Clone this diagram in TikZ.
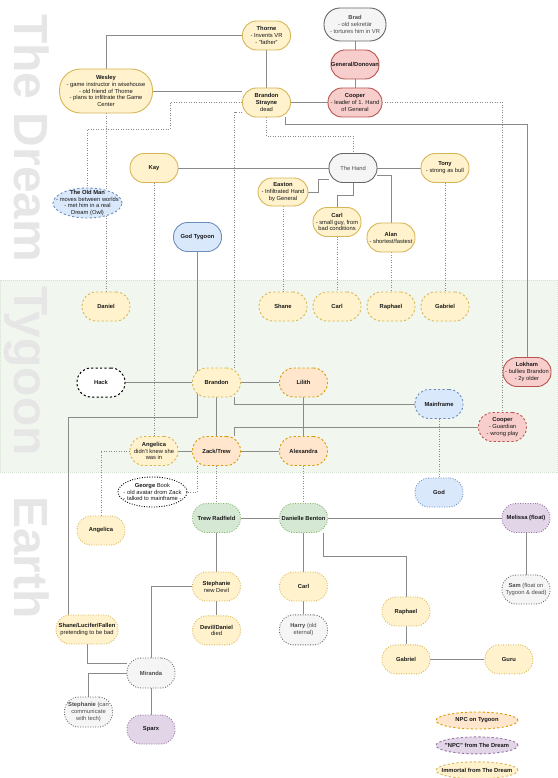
\documentclass[tikz,border=0pt]{standalone}
\usepackage{fontspec}
\setmainfont{Liberation Sans}
\usetikzlibrary{shapes.geometric,positioning}

\definecolor{yelF}{HTML}{FFF2CC}\definecolor{yelD}{HTML}{D6B656}
\definecolor{orgF}{HTML}{FFE6CC}\definecolor{orgD}{HTML}{D79B00}
\definecolor{redF}{HTML}{F8CECC}\definecolor{redD}{HTML}{B85450}
\definecolor{bluF}{HTML}{DAE8FC}\definecolor{bluD}{HTML}{6C8EBF}
\definecolor{grnF}{HTML}{D5E8D4}\definecolor{grnD}{HTML}{82B366}
\definecolor{purF}{HTML}{E1D5E7}\definecolor{purD}{HTML}{9673A6}
\definecolor{gryF}{HTML}{F5F5F5}\definecolor{gryD}{HTML}{666666}
\definecolor{bandF}{HTML}{F1F7EF}\definecolor{bandD}{HTML}{D5E3D2}
\definecolor{lineC}{HTML}{8A8A8A}
\definecolor{bigC}{HTML}{E6E6E6}

\newcommand{\nodefs}{\fontsize{5.8}{6.9}\selectfont}
\newcommand{\bandfs}{\fontsize{48}{48}\selectfont\bfseries}

\pgfdeclarelayer{back}
\pgfdeclarelayer{edges}
\pgfsetlayers{back,edges,main}

\begin{document}
\begin{tikzpicture}[
  x=1pt, y=-1pt,
  every node/.style={font=\nodefs, align=center, inner sep=0pt, text=black!90},
  pers/.style={rounded corners=14pt, minimum width=48pt, minimum height=29pt, line width=0.9pt},
  ovl/.style={ellipse, line width=0.9pt, minimum width=69pt, minimum height=30pt, label={center:#1}},
  cYel/.style={fill=yelF, draw=yelD},
  cOrg/.style={fill=orgF, draw=orgD},
  cRed/.style={fill=redF, draw=redD},
  cBlu/.style={fill=bluF, draw=bluD},
  cGrn/.style={fill=grnF, draw=grnD},
  cPur/.style={fill=purF, draw=purD},
  cGry/.style={fill=gryF, draw=gryD, text=black!70},
  tyg/.style={dash pattern=on 2.2pt off 2.2pt},
  ear/.style={dash pattern=on 0.9pt off 1.6pt},
  solln/.style={draw=lineC, line width=0.9pt},
  dotln/.style={draw=lineC, line width=0.9pt, dash pattern=on 1pt off 1.5pt},
  bandtxt/.style={font=\bandfs, text=bigC, rotate=-90, anchor=base west}
]
\useasboundingbox (0,0) rectangle (557,778);

% The Dream
\node[pers, cYel] (thorne) at (266.5,35.5) {\textbf{Thorne}\\- Invents VR\\- "father"};
\node[pers, cGry, minimum width=62pt, minimum height=33pt, rounded corners=16pt] (brad) at (355,24.5) {\textbf{Brad}\\- old sekretär\\- tortures him in VR};
\node[pers, cRed] (general) at (355,64.5) {\textbf{General/Donovan}};
\node[pers, cRed, minimum width=54pt] (cooperA) at (355,102.5) {\textbf{Cooper}\\- leader of 1. Hand\\of General};
\node[pers, cYel] (strayne) at (266.5,102.5) {\textbf{Brandon}\\\textbf{Strayne}\\dead};
\node[pers, cYel, minimum width=93pt, minimum height=44pt, rounded corners=21pt] (wesley) at (106,91) {\textbf{Wesley}\\- game instructor in wisehouse\\- old friend of Thorne\\- plans to infiltrate the Game\\Center};
\node[pers, cYel] (kay) at (154,168) {\textbf{Kay}};
\node[pers, cGry] (hand) at (353,168) {The Hand};
\node[pers, cYel] (tony) at (445,168) {\textbf{Tony}\\- strong as bull};
\node[pers, cYel, minimum width=50pt, minimum height=28pt] (easton) at (283,192) {\textbf{Easton}\\- Infiltrated Hand\\by General};
\node[pers, cYel] (carlA) at (337,222) {\textbf{Carl}\\- small guy, from\\bad conditions};
\node[pers, cYel] (alan) at (391,237.5) {\textbf{Alan}\\- shortest/fastest};
\node[ovl={\textbf{The Old Man}\\- moves between worlds\\- met him in a real\\Dream (Owl)}, cBlu, tyg] (oldman) at (87.5,203) {};
\node[pers, cBlu] (godty) at (197.5,237) {\textbf{God Tygoon}};

% Tygoon
\node[pers, cYel, tyg] (daniel) at (106,306.5) {\textbf{Daniel}};
\node[pers, cYel, tyg] (shane) at (283,306.5) {\textbf{Shane}};
\node[pers, cYel, tyg] (carlB) at (337,306.5) {\textbf{Carl}};
\node[pers, cYel, tyg] (raphaelA) at (391,306.5) {\textbf{Raphael}};
\node[pers, cYel, tyg] (gabrielA) at (445,306.5) {\textbf{Gabriel}};
\node[pers, tyg, draw=black, fill=white, line width=1pt] (hack) at (101,382.5) {\textbf{Hack}};
\node[pers, cYel, tyg] (brandon) at (216.5,382.5) {\textbf{Brandon}};
\node[pers, cOrg, tyg] (lilith) at (303.5,382.5) {\textbf{Lilith}};
\node[pers, cBlu, tyg] (mainframe) at (439,404) {\textbf{Mainframe}};
\node[pers, cRed] (lokham) at (527,372) {\textbf{Lokham}\\- bullies Brandon\\- 2y older};
\node[pers, cRed, tyg] (cooperB) at (502.5,427) {\textbf{Cooper}\\- Guardian\\- wrong play};
\node[pers, cYel, tyg] (angelicaA) at (154,451) {\textbf{Angelica}\\didn't knew she\\was in};
\node[pers, cOrg, tyg] (zack) at (216.5,451) {\textbf{Zack/Trew}};
\node[pers, cOrg, tyg] (alexandra) at (303.5,451) {\textbf{Alexandra}};

% Earth
\node[ovl={\textbf{George} Book\\- old avatar drom Zack\\- talked to mainframe -}, draw=black, fill=white, ear] (george) at (152.5,492) {};
\node[pers, cBlu, ear] (god) at (439,492.5) {\textbf{God}};
\node[pers, cGrn, ear] (trew) at (216.5,518) {\textbf{Trew Radfield}};
\node[pers, cGrn, ear] (danielle) at (303.5,518) {\textbf{Danielle Benton}};
\node[pers, cPur, ear] (melissa) at (526,518) {\textbf{Melissa (float)}};
\node[pers, cYel, ear] (angelicaB) at (101,530.5) {\textbf{Angelica}};
\node[pers, cYel, ear] (stephanie) at (216.5,586.5) {\textbf{Stephanie}\\new Devil};
\node[pers, cYel, ear, below=14pt of stephanie] (devil) {\textbf{Devil/Daniel}\\died};
\node[pers, cYel, ear, minimum width=62pt] (shanel) at (87,629.5) {\textbf{Shane/Lucifer/Fallen}\\pretending to be bad};
\node[pers, cGry, ear, minimum height=30pt] (miranda) at (151,673) {\textbf{Miranda}};
\node[pers, cGry, ear, minimum height=30pt] (stephB) at (88.5,712) {\textbf{Stephanie} (can\\communicate\\with tech)};
\node[pers, cPur, ear] (sparx) at (151,729.5) {\textbf{Sparx}};
\node[pers, cYel, ear] (carlC) at (303.5,586.5) {\textbf{Carl}};
\node[pers, cGry, ear, minimum height=30pt, below=13pt of carlC] (harry) {\textbf{Harry} (old\\eternal)};
\node[pers, cGry, ear] (sam) at (526,589.5) {\textbf{Sam} (float on\\Tygoon \& dead)};
\node[pers, cYel, ear] (raphaelB) at (406,611.5) {\textbf{Raphael}};
\node[pers, cYel, ear, below=18pt of raphaelB] (gabrielB) {\textbf{Gabriel}};
\node[pers, cYel, ear, right=54pt of gabrielB] (guru) {\textbf{Guru}};

% legend
\node[ovl={\textbf{NPC on Tygoon}}, cOrg, tyg, minimum width=82pt, minimum height=17pt] (legNpc) at (477,720.5) {};
\node[ovl={\textbf{"NPC" from The Dream}}, cPur, tyg, minimum width=82pt, minimum height=17pt, below=7pt of legNpc] (legDream) {};
\node[ovl={\textbf{Immortal from The Dream}}, cYel, tyg, minimum width=82pt, minimum height=17pt, below=7pt of legDream] (legImm) {};

\begin{pgfonlayer}{back}
\fill[bandF] (0,280) rectangle (557,472);
\draw[bandD, dash pattern=on 1pt off 1pt] (0,280) rectangle (557,472);
\node[bandtxt] (dreamlbl) at (14.5,14) {The Dream};
\node[bandtxt] (tygoonlbl) at (14.5,286) {Tygoon};
\node[bandtxt] (earthlbl) at (14.5,496) {Earth};
\end{pgfonlayer}

\begin{pgfonlayer}{edges}
% solid links
\draw[solln] (wesley.north) |- (thorne.west);
\draw[solln] (thorne) -- (strayne);
\draw[solln] (wesley.east) -- (wesley.east -| strayne.west);
\draw[solln] (brad) -- (general);
\draw[solln] (general) -- (cooperA);
\draw[solln] (strayne) -- (cooperA);
\draw[solln] ([xshift=19pt]strayne.south) -- ++(0,7) -| (lokham.north);
\draw[solln] (kay) -- (hand);
\draw[solln] (hand) -- (tony);
\draw[solln] ([yshift=-11pt]hand.west) -| ([xshift=10pt]easton.east) -- (easton.east);
\draw[solln] (hand.south) -- ++(0,12) -| (carlA.north);
\draw[solln] ([yshift=-7pt]hand.east) -| (alan.north);
\draw[solln] (godty.south) -- ++(0,165) -| ([xshift=-19pt]shanel.north);
\draw[solln] (hack) -- (brandon);
\draw[solln] (brandon) -- (lilith);
\draw[solln] (brandon) -- (zack);
\draw[solln] ([xshift=18pt]brandon.south) |- (mainframe.west);
\draw[solln] (lilith) -- (alexandra);
\draw[solln] ([xshift=18pt]zack.north) |- (cooperB.west);
\draw[solln] (angelicaA) -- (zack);
\draw[solln] (zack) -- (alexandra);
\draw[solln] (trew) -- (danielle);
\draw[solln] (danielle) -- (melissa);
\draw[solln] (trew) -- (stephanie);
\draw[solln] (stephanie) -- (devil);
\draw[solln] (stephanie.west) -| (miranda.north);
\draw[solln] (shanel.south) |- ([yshift=10pt]miranda.west);
\draw[solln] (miranda.west) -| (stephB.north);
\draw[solln] (miranda) -- (sparx);
\draw[solln] (danielle) -- (carlC);
\draw[solln] ([xshift=20pt]danielle.south) -- ++(0,23) -| (raphaelB.north);
\draw[solln] (carlC) -- (harry);
\draw[solln] (raphaelB) -- (gabrielB);
\draw[solln] (gabrielB) -- (guru);
\draw[solln] (melissa) -- (sam);

% dotted links
\draw[dotln] (wesley.south) -- (daniel.north);
\draw[dotln] (strayne.west) -- ++(-72,0) -- ++(0,27) -| (oldman.north);
\draw[dotln] ([yshift=-10pt]strayne.west) -| ([xshift=18pt]brandon.north);
\draw[dotln] (strayne.south) -- ++(0,19) -| (hand.north);
\draw[dotln] (cooperA.east) -| (cooperB.north);
\draw[dotln] (kay) -- (angelicaA);
\draw[dotln] (easton) -- (shane);
\draw[dotln] (carlA) -- (carlB);
\draw[dotln] (alan) -- (raphaelA);
\draw[dotln] (tony) -- (gabrielA);
\draw[dotln] (angelicaA.west) -| (angelicaB.north);
\draw[dotln] ([xshift=-19pt]zack.south) |- (george.east);
\draw[dotln] (zack) -- (trew);
\draw[dotln] (alexandra) -- (danielle);
\draw[dotln] (mainframe) -- (god);
\end{pgfonlayer}

\end{tikzpicture}
\end{document}
